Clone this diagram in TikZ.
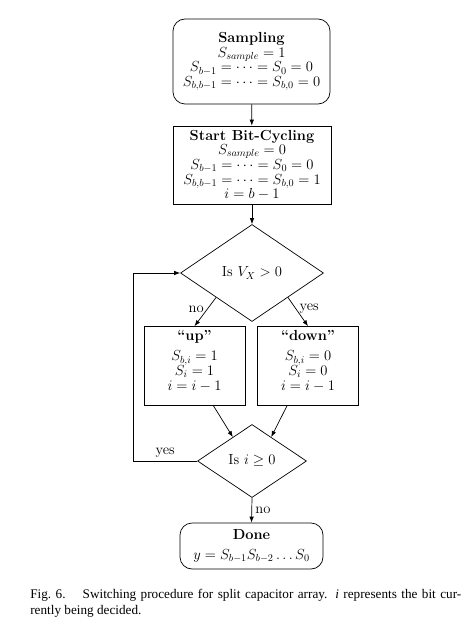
\RequirePackage{fix-cm}
\documentclass[tikz,border=0pt]{standalone}
\usepackage{fontspec}
\newfontfamily\capfont{Liberation Serif}
\usetikzlibrary{shapes.geometric,arrows.meta,calc}

\tikzset{
  term/.style={draw, rounded corners=12pt, align=center, inner sep=2pt},
  proc/.style={draw, align=center, inner sep=2pt},
  test/.style={draw, diamond, inner sep=0pt, align=center},
  flow/.style={->, line width=0.7pt}
}

\begin{document}
\begin{tikzpicture}[x=1pt, y=-1pt, line width=0.7pt, >={Latex[length=6pt,width=4.5pt]},
    font=\fontsize{14.6}{14.7}\selectfont]
  \useasboundingbox (0,0) rectangle (474,628);
  % boxes
  \node[term, minimum width=157pt, minimum height=85pt] (samp) at (251.5,61.5)
    {\textbf{Sampling}\\ $S_{sample}=1$\\ $S_{b-1}=\cdots=S_0=0$\\ $S_{b,b-1}=\cdots=S_{b,0}=0$};
  \node[proc, minimum width=158pt, minimum height=78pt] (start) at (252,165)
    {\textbf{Start Bit-Cycling}\\ $S_{sample}=0$\\ $S_{b-1}=\cdots=S_0=0$\\ $S_{b,b-1}=\cdots=S_{b,0}=1$\\ $i=b-1$};
  \node[test, minimum width=143pt, minimum height=97pt] (cmp) at (252,273) {Is $V_X>0$};
  \node[proc, minimum width=101pt, minimum height=79pt] (up) at (194.5,366)
    {\textbf{``up''}\\[6pt] $S_{b,i}=1$\\ $S_i=1$\\ $i=i-1$\\[-3pt] ~};
  \node[proc, minimum width=101pt, minimum height=79pt] (down) at (308,366)
    {\textbf{``down''}\\[6pt] $S_{b,i}=0$\\ $S_i=0$\\ $i=i-1$\\[-3pt] ~};
  \node[test, minimum width=109pt, minimum height=73pt] (chk) at (252,461) {Is $i\geq0$};
  \node[term, minimum width=143pt, minimum height=46pt] (done) at (251.5,546)
    {\textbf{Done}\\[5pt] $y=S_{b-1}S_{b-2}\ldots S_0$};

  % connectors
  \draw[flow] (samp) -- (start);
  \draw[flow] (start) -- (cmp);
  \draw[flow] (cmp.south west) -- node[pos=0.4, left] {no} (up.north);
  \draw[flow] (cmp.south east) -- node[pos=0.4, right] {yes} (down.north);
  \draw[flow] ([xshift=19pt]up.south) -- ($(chk.west)!0.65!(chk.north)$);
  \draw[flow] ([xshift=-21pt]down.south) -- ($(chk.east)!0.65!(chk.north)$);
  \draw[flow] (chk.west) -- node[above] {yes} ++(-64,0) |- (cmp.west);
  \draw[flow] (chk.south) -- node[right] {no} (done.north);

  % caption
  \node[anchor=north west, text width=431pt, align=justify, inner sep=0pt,
    font=\capfont\fontsize{13.2}{16}\selectfont] (cap) at (30,589)
    {Fig.~6.\hspace{0.7em} Switching procedure for split capacitor array. {\itshape i} represents the bit cur-\linebreak rently being decided.};
\end{tikzpicture}
\end{document}
